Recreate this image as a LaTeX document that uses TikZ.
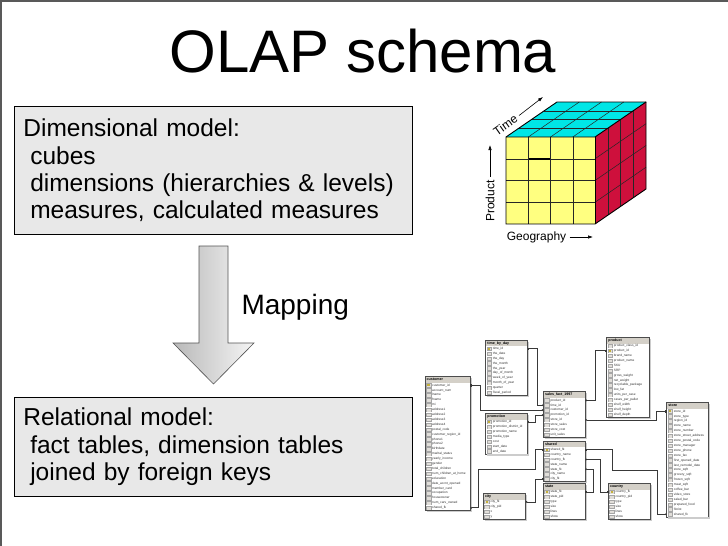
\documentclass[tikz,border=0pt]{standalone}
\usepackage{fontspec}
\setmainfont{Liberation Sans}
\usepackage{tikz}
\usetikzlibrary{positioning,calc,arrows.meta}

\definecolor{boxgray}{RGB}{232,232,232}
\definecolor{cubetop}{RGB}{0,230,230}
\definecolor{cubeside}{RGB}{206,16,60}
\definecolor{cubefront}{RGB}{255,255,128}
\definecolor{tabgray}{RGB}{212,208,200}
\definecolor{keygold}{RGB}{196,176,60}

\tikzset{
  modelbox/.style={draw=black, line width=0.8pt, fill=boxgray, anchor=north west,
    minimum height=#1, text width=380pt, align=left, inner xsep=9pt,
    font=\fontsize{24.5}{27.3}\selectfont},
  dimlbl/.style={font=\fontsize{12}{14}\selectfont},
  dimarrow/.style={line width=0.6pt, -{Latex[length=5pt,width=3.5pt]}},
  cubegrid/.style={line width=0.5pt, black!85},
  cubeedge/.style={line width=0.9pt, black},
  tabhead/.style={anchor=north west, inner sep=0pt, minimum height=6pt, fill=tabgray,
    align=left, text height=2.6pt, text depth=0.8pt,
    font=\bfseries\fontsize{3.6}{4}\selectfont},
  tabrow/.style={anchor=north west, inner sep=0pt, minimum height=4.9pt, fill=white,
    align=left, text height=2.3pt, text depth=0.7pt, text=black!80,
    font=\fontsize{3.2}{3.5}\selectfont},
  keycell/.style={draw=gray!70, line width=0.2pt, fill=tabgray!70},
  tabframe/.style={draw=gray!60!black, line width=0.6pt},
  tabshadow/.style={draw=gray!40, line width=1.2pt},
  link/.style={draw=gray!45!black, line width=0.8pt,
    {Square[length=1.5pt,width=2pt,fill=keygold]}-{Circle[open,length=1.6pt]}}
}

% #1 name, #2 x, #3 top, #4 width, #5 title, #6 key row, #7 columns
\newcommand{\dbtable}[7]{%
  \node[tabhead, text width=#4pt] (#1) at (#2,#3) {\hspace*{1.5pt}#5};
  \foreach \col [count=\k] in {#7} {
    \node[tabrow, text width=#4pt] (#1-\k) at ($(#2,#3)+(0,{6+(\k-1)*4.9})$) {\hspace*{7pt}\mbox{\col}};
    \filldraw[keycell] ($(#1-\k.west)+(1.2,-1.8)$) rectangle ++(4.4,3.6);
    \ifnum\k=#6\relax \fill[keygold] ($(#1-\k.west)+(2.2,-1)$) rectangle ++(2.4,2); \fi
    \coordinate (#1-end) at (#1-\k.south east);
  }
  \draw[tabframe] (#1.north west) rectangle (#1-end);
  \draw[tabshadow] ($(#1.north east)+(1,1.5)$) |- ($(#1.north west |- #1-end)+(1.5,1)$);
}

\begin{document}
\begin{tikzpicture}[x=1pt, y=-1pt]
    \useasboundingbox (0,0) rectangle (728,546);
    \draw[line width=1.6pt, gray!70!black] (0.8,546) -- (0.8,0.8) -- (728,0.8);

    % Title
    \node[font=\fontsize{60}{66}\selectfont, anchor=base] (title) at (363,72) {OLAP schema};

    % Models
    \node[modelbox=128pt] (dimbox) at (14,106) {Dimensional model:\\
      \hspace*{0.28em}cubes\\
      \hspace*{0.28em}dimensions (hierarchies \& levels)\\
      \hspace*{0.28em}measures, calculated measures};
    \node[modelbox=99pt] (relbox) at (14,397) {Relational model:\\
      \hspace*{0.28em}fact tables, dimension tables\\
      \hspace*{0.28em}joined by foreign keys};

    % Mapping arrow
    \draw[draw=gray!65!black, line width=0.6pt, left color=gray!55, right color=gray!8]
      (199,246) -- (228,246) -- (228,343) -- (254,343) -- (213.5,384) -- (173,343) -- (199,343) -- cycle;
    \node[font=\fontsize{28}{32}\selectfont, anchor=base west] (maplbl) at (238,314) {Mapping};

    % Cube
    \fill[cubetop] (506,137) -- (595,137) -- (646,102) -- (557,102) -- cycle;
    \fill[cubeside] (595,137) -- (646,102) -- (646,189) -- (595,224) -- cycle;
    \fill[cubefront] (506,137) rectangle (595,224);
    \foreach \i in {1,2,3} {
      \draw[cubegrid] ({506+\i*22.25},137) -- ++(0,87);
      \draw[cubegrid] (506,{137+\i*21.75}) -- ++(89,0);
      \draw[cubegrid] ({506+\i*22.25},137) -- ++(51,-35);
      \draw[cubegrid] ({506+\i*12.75},{137-\i*8.75}) -- ++(89,0);
      \draw[cubegrid] ({595+\i*12.75},{137-\i*8.75}) -- ++(0,87);
      \draw[cubegrid] (595,{137+\i*21.75}) -- ++(51,-35);
    }
    \draw[cubeedge] (506,224) -- (506,137) -- (557,102) -- (646,102) -- (646,189) -- (595,224) -- cycle;
    \draw[cubeedge] (506,137) -- (595,137) -- (646,102);
    \draw[cubeedge] (595,137) -- (595,224);
    \draw[line width=1.4pt] (529,159) -- (550,159);

    % Cube axes
    \node[dimlbl, rotate=35] (timelbl) at (505.5,125) {Time};
    \coordinate (timetip) at (543,97);
    \draw[dimarrow] (timelbl.east) -- (timetip);
    \node[dimlbl, rotate=90] (prodlbl) at (490,201) {Product};
    \coordinate (prodtip) at (490,145);
    \draw[dimarrow] (prodlbl.east) -- (prodtip);
    \node[dimlbl] (geolbl) at (536.5,237) {Geography};
    \coordinate (geotip) at (593,237);
    \draw[dimarrow] (geolbl.east) -- (geotip);

    % Schema tables
    \dbtable{cust}{425}{376.7}{45}{customer}{1}{customer\_id, account\_num, lname, fname, mi,
      address1, address2, address3, address4, postal\_code, customer\_region\_id, phone1, phone2,
      birthdate, marital\_status, yearly\_income, gender, total\_children, num\_children\_at\_home,
      education, date\_accnt\_opened, member\_card, occupation, houseowner, num\_cars\_owned, shared\_fk}
    \dbtable{tbd}{485.7}{340}{41.6}{time\_by\_day}{1}{time\_id, the\_date, the\_day, the\_month,
      the\_year, day\_of\_month, week\_of\_year, month\_of\_year, quarter, fiscal\_period}
    \dbtable{prod}{606.7}{337.3}{42}{product}{2}{product\_class\_id, product\_id, brand\_name,
      product\_name, SKU, SRP, gross\_weight, net\_weight, recyclable\_package, low\_fat,
      units\_per\_case, cases\_per\_pallet, shelf\_width, shelf\_height, shelf\_depth}
    \dbtable{sf}{543.3}{391.7}{41.7}{sales\_fact\_1997}{0}{product\_id, time\_id, customer\_id,
      promotion\_id, store\_id, store\_sales, store\_cost, unit\_sales}
    \dbtable{promo}{485.7}{413.3}{41.6}{promotion}{1}{promotion\_id, promotion\_district\_id,
      promotion\_name, media\_type, cost, start\_date, end\_date}
    \dbtable{shared}{543.3}{441}{41.7}{shared}{1}{shared\_fk, country\_name, country\_fk,
      state\_name, state\_fk, city\_name, city\_fk}
    \dbtable{state}{543.3}{483.3}{41.7}{state}{1}{state\_fk, state\_pid, type, size, lines, show}
    \dbtable{city}{483.3}{493.3}{42}{city}{1}{city\_fk, city\_pid, x, y}
    \dbtable{country}{608.3}{483.3}{41.7}{country}{1}{country\_fk, country\_pid, type, size, lines, show}
    \dbtable{store}{666.7}{402.7}{41.6}{store}{1}{store\_id, store\_type, region\_id, store\_name,
      store\_number, store\_street\_address, store\_postal\_code, store\_manager, store\_phone,
      store\_fax, first\_opened\_date, last\_remodel\_date, store\_sqft, grocery\_sqft, frozen\_sqft,
      meat\_sqft, coffee\_bar, video\_store, salad\_bar, prepared\_food, florist, shared\_fk}

    % Foreign keys
    \draw[link] (tbd-1.east) -- ++(9.7,0) |- (sf-2.west);
    \draw[link] (cust-1.east) -- ++(10,0) |- (sf-3.west);
    \draw[link] (promo-1.east) -- ++(8,0) |- (sf-4.west);
    \draw[link] (prod-2.west) -- ++(-11.7,0) |- (sf-1.east);
    \draw[link] (store-1.west) -- ++(-10,0) |- (sf-5.east);
    \draw[link] (shared-1.west) -- ++(-8.3,0) -- ++(0,20) -- ++(-56.7,0) |- (cust-26.east);
    \draw[link] (shared-7.west) -- ++(-8.3,0) |- (city-1.east);
    \draw[link] (shared-1.east) -- ++(26.7,0) -- ++(0,20.5) -- ++(45,0) |- (store-22.west);
    \draw[link] (country-1.west) -- ++(-8.3,0) |- (shared-3.east);
    \draw[link] (state-1.east) -- ++(8.3,0) |- (shared-5.east);
\end{tikzpicture}
\end{document}
